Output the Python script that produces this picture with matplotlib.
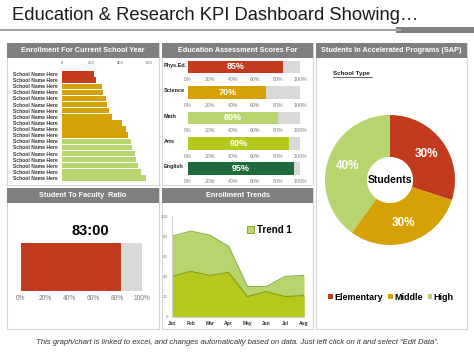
import matplotlib
matplotlib.use("Agg")
import matplotlib.pyplot as plt
from matplotlib.patches import Rectangle
from matplotlib.lines import Line2D

plt.rcParams["font.family"] = ["Liberation Sans", "DejaVu Sans"]

W, H = 474, 355

# ---- data ----
school_names = ["School Name Here"] * 18
enrollment = [219, 233, 274, 281, 306, 308, 326, 342, 417, 443, 456,
              475, 484, 502, 509, 522, 543, 577]
enroll_groups = ["r", "r"] + ["g"] * 9 + ["l"] * 7

subjects = ["Phys.Ed.", "Science", "Math", "Arts", "English"]
scores = [85, 70, 80, 90, 95]

sap_types = ["Elementary", "Middle", "High"]
sap_share = [30, 30, 40]

ratio_value = 83
ratio_label = "83:00"

months = ["Jan", "Feb", "Mar", "Apr", "May", "Jun", "Jul", "Aug"]
trend_total = [80, 85, 81, 70, 30, 30, 40, 41]
trend_base = [40, 45, 41, 44, 20, 25, 20, 21]

# ---- colours ----
RED = "#c23b1f"
GOLD = "#d6a106"
LGREEN = "#b7d56f"
YGREEN = "#b5c81b"
DGREEN = "#1d6b3b"
BG = "#d9d9d9"
HEAD = "#7f7f7f"
group_colors = {"r": RED, "g": GOLD, "l": LGREEN}
subject_colors = [RED, GOLD, LGREEN, YGREEN, DGREEN]


def rect(x0, y0, x1, y1):
    return [x0 / W, 1 - y1 / H, (x1 - x0) / W, (y1 - y0) / H]


def fx(x):
    return x / W


def fy(y):
    return 1 - y / H


fig = plt.figure(figsize=(W / 100, H / 100), dpi=100)
fig.patch.set_facecolor("white")

# title and rule
fig.text(fx(12), fy(15), "Education & Research KPI Dashboard Showing\u2026",
         fontsize=13.2, va="center", ha="left", color="#1a1a1a")
fig.add_artist(Line2D([0, fx(400)], [fy(29.5), fy(29.5)], color="#a6a6a6",
                      lw=1.5, transform=fig.transFigure))
fig.add_artist(Rectangle((fx(396), fy(33)), fx(474) - fx(396), fy(27) - fy(33),
                         transform=fig.transFigure, color="#808080", lw=0))

# panels with header bars
panels = [
    (7, 43, 159, 185, "Enrollment For Current School Year"),
    (162, 43, 313, 185, "Education Assessment Scores For"),
    (316, 43, 467, 329, "Students In Accelerated Programs (SAP)"),
    (7, 188, 159, 329, "Student To Faculty  Ratio"),
    (162, 188, 313, 329, "Enrollment Trends"),
]
for x0, y0, x1, y1, title in panels:
    fig.add_artist(Rectangle((fx(x0), fy(y1)), fx(x1) - fx(x0), fy(y0) - fy(y1),
                             transform=fig.transFigure, facecolor="white",
                             edgecolor="#d4d4d4", lw=0.8, zorder=-10))
    fig.add_artist(Rectangle((fx(x0), fy(y0 + 15)), fx(x1) - fx(x0), fy(y0) - fy(y0 + 15),
                             transform=fig.transFigure, facecolor=HEAD, lw=0, zorder=-5))
    fig.text(fx((x0 + x1) / 2), fy(y0 + 7.5), title, color="white",
             fontsize=5.2, fontweight="bold", ha="center", va="center")

# ---- enrollment bars ----
ax = fig.add_axes(rect(62, 71, 149, 181))
ax.patch.set_alpha(0)
ypos = list(range(len(enrollment)))
ax.barh(ypos, enrollment, height=0.9,
        color=[group_colors[g] for g in enroll_groups])
ax.set_xlim(0, 600)
ax.set_ylim(len(enrollment) - 0.5, -0.5)
ax.set_yticks(ypos)
ax.set_yticklabels(school_names, fontsize=3.6, fontweight="bold", color="#333333")
ax.set_xticks([0, 200, 400, 600])
ax.xaxis.tick_top()
ax.tick_params(axis="x", labelsize=3, colors="#595959", length=0, pad=4)
ax.tick_params(axis="y", length=0, pad=3)
for s in ax.spines.values():
    s.set_visible(False)

# ---- assessment scores ----
bar_rows = [(60.7, 73), (86, 99), (112, 123.5), (137, 149.5), (162, 175)]
for (y0, y1), name, val, col in zip(bar_rows, subjects, scores, subject_colors):
    a = fig.add_axes(rect(188, y0, 300, y1))
    a.barh([0], [100], height=1, color=BG)
    a.barh([0], [val], height=1, color=col)
    a.set_xlim(0, 100)
    a.set_ylim(-0.5, 0.5)
    a.set_yticks([])
    a.set_xticks(range(0, 101, 20))
    a.set_xticklabels([f"{t}%" for t in range(0, 101, 20)])
    a.tick_params(axis="x", labelsize=3.8, colors="#7a7a7a", length=0, pad=3)
    for s in a.spines.values():
        s.set_visible(False)
    a.text(val / 2, 0, f"{val}%", color="white", fontsize=6.5,
           fontweight="bold", ha="center", va="center")
    fig.text(fx(164), fy(y0 + 4.5), name, fontsize=4, fontweight="bold",
             ha="left", va="center", color="#222222")

# ---- SAP donut ----
pa = fig.add_axes(rect(325, 115, 455, 245))
wedges, _, autotexts = pa.pie(sap_share, colors=[RED, GOLD, LGREEN],
                              startangle=90, counterclock=False,
                              autopct="%d%%", pctdistance=0.69,
                              wedgeprops=dict(width=0.645, linewidth=0))
for t in autotexts:
    t.set_color("white")
    t.set_fontsize(8.5)
    t.set_fontweight("bold")
pa.set_xlim(-1, 1)
pa.set_ylim(-1, 1)
pa.text(0, 0, "Students", fontsize=7.5, fontweight="bold", ha="center", va="center")
fig.text(fx(333), fy(73), "School Type", fontsize=4.5, fontweight="bold",
         ha="left", va="center", color="#222222")
fig.add_artist(Line2D([fx(333), fx(372)], [fy(76.5), fy(76.5)], color="#222222",
                      lw=0.5, transform=fig.transFigure))
fig.legend(wedges, sap_types, loc="center", bbox_to_anchor=(fx(391), fy(297)),
           ncol=3, frameon=False, handlelength=0.5, handleheight=0.5,
           handletextpad=0.15, columnspacing=0.6,
           prop=dict(size=6.5, weight="bold"))

# ---- student to faculty ratio ----
ra = fig.add_axes(rect(20.7, 243, 142, 291))
ra.barh([0], [100], height=1, color=BG)
ra.barh([0], [ratio_value], height=1, color=RED)
ra.set_xlim(0, 100)
ra.set_ylim(-0.5, 0.5)
ra.set_yticks([])
ra.set_xticks(range(0, 101, 20))
ra.set_xticklabels([f"{t}%" for t in range(0, 101, 20)])
ra.tick_params(axis="x", labelsize=4.8, colors="#7a7a7a", length=0, pad=3)
for s in ra.spines.values():
    s.set_visible(False)
fig.text(fx(90), fy(231), ratio_label, fontsize=10.5, fontweight="bold",
         ha="center", va="center")

# ---- enrollment trends ----
ta = fig.add_axes(rect(172, 216, 304, 316.7))
xs = list(range(len(months)))
ta.fill_between(xs, 0, trend_total, color=LGREEN, lw=0, label="Trend 1")
ta.plot(xs, trend_total, color="#8fb04a", lw=0.8)
ta.fill_between(xs, 0, trend_base, color=YGREEN, lw=0)
ta.plot(xs, trend_base, color="#8a9a12", lw=0.8)
ta.set_xlim(0, len(months) - 1)
ta.set_ylim(0, 100)
ta.set_xticks(xs)
ta.set_xticklabels(months, fontweight="bold")
ta.set_yticks(range(0, 101, 20))
ta.tick_params(axis="x", labelsize=3.5, colors="#333333", length=0, pad=3)
ta.tick_params(axis="y", labelsize=3.2, colors="#7a7a7a", length=0, pad=3)
for side in ("top", "right"):
    ta.spines[side].set_visible(False)
ta.spines["left"].set_color("#d0d0d0")
ta.spines["bottom"].set_color("#d0d0d0")
ta.legend(handles=[Rectangle((0, 0), 1, 1, facecolor=LGREEN, edgecolor="#8a9a12", lw=0.6)],
          labels=["Trend 1"], loc="upper right", bbox_to_anchor=(0.97, 1.0),
          frameon=False, handlelength=0.7, handleheight=0.7, handletextpad=0.3,
          prop=dict(size=7, weight="bold"))

# footer
fig.text(0.5, fy(343), "This graph/chart is linked to excel, and changes automatically "
         "based on data. Just left click on it and select \u201cEdit Data\u201d.",
         fontsize=5.6, style="italic", ha="center", va="center", color="#333333")

fig.savefig("out.png", dpi=100)
